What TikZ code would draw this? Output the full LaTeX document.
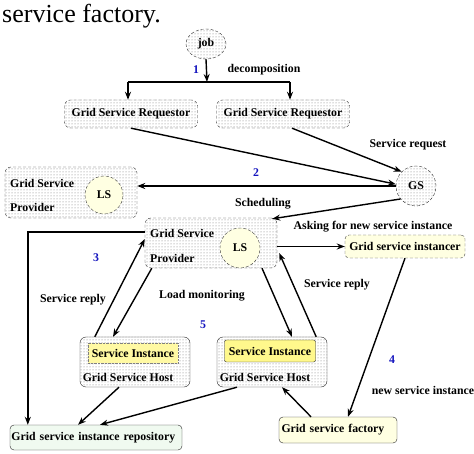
\documentclass[tikz,border=0pt]{standalone}
\usepackage{fontspec}
\setmainfont{Liberation Serif}
\usetikzlibrary{calc,patterns,shapes.geometric,arrows.meta}
\definecolor{numblue}{RGB}{20,20,190}
\definecolor{paleyellow}{RGB}{255,255,226}
\definecolor{siyellow}{RGB}{255,248,140}
\definecolor{palegreen}{RGB}{240,250,240}
\tikzset{
  lbl/.style={font=\fontsize{11.8}{13}\selectfont\bfseries, inner sep=0pt},
  num/.style={lbl, text=numblue},
  dotbox/.style={draw=black!80, densely dashed, rounded corners=6pt, pattern=dots, pattern color=black!55},
  hostbox/.style={draw=black!85, rounded corners=6pt, pattern=dots, pattern color=black!55},
  lscirc/.style={lbl, circle, draw=black!75, densely dashed, fill=paleyellow, minimum size=38pt},
  arr/.style={-{Stealth[length=8pt,width=6pt]}, line width=1.4pt},
  ln/.style={line width=1.4pt}
}

\begin{document}
\begin{tikzpicture}[x=1pt,y=-1pt]
		%%%%% START %%%%%
		\useasboundingbox (0,0) rectangle (474,454);
		\node[anchor=west, inner sep=0pt, font=\fontsize{26}{28}\selectfont] (title) at (2,16) {service factory.};
		
		\node[dotbox, ellipse, lbl, minimum width=40pt, minimum height=30pt] (job) at (206,44) {job};
		\coordinate (fork) at (207,82);
		\coordinate (forkL) at (128,82);
		\coordinate (forkR) at (290,82);
		\node[num] (n1) at (196,70) {1};
		\node[lbl] (decomp) at (264,70) {decomposition};
		
		\node[dotbox, lbl, minimum width=133pt, minimum height=28pt] (gsrA) at (131,114) {Grid Service Requestor};
		\node[dotbox, lbl, minimum width=133pt, minimum height=28pt] (gsrB) at (283,114) {Grid Service Requestor};
		
		\node[dotbox, circle, lbl, minimum size=40pt] (gs) at (416,186) {GS};
		\node[lbl] (sreq) at (408,145) {Service request};
		\node[num] (n2) at (256,173) {2};
		\node[lbl] (sched) at (263,204) {Scheduling};
		
		\node[dotbox, minimum width=132pt, minimum height=51pt] (gspA) at (71,192.5) {};
		\node[lbl, anchor=west] (gspAtop) at (10,183) {Grid Service};
		\node[lbl, anchor=west] (gspAbot) at (10,207) {Provider};
		\node[lscirc] (lsA) at (104,195) {LS};
		
		\node[dotbox, minimum width=132pt, minimum height=50pt] (gspB) at (211,243) {};
		\node[lbl, anchor=west] (gspBtop) at (150,233) {Grid Service};
		\node[lbl, anchor=west] (gspBbot) at (150,258) {Provider};
		\node[lscirc, minimum size=40pt] (lsB) at (240,248) {LS};
		
		\node[lbl] (ask) at (373,227) {Asking for new service instance};
		\node[lbl, draw=black!75, densely dashed, rounded corners=4pt, fill=paleyellow, minimum width=120pt, minimum height=23pt] (inst) at (405,246.5) {Grid service instancer};
		
		\node[num] (n3) at (96,258) {3};
		\node[lbl] (replyA) at (73,300) {Service reply};
		\node[lbl] (load) at (202,296) {Load monitoring};
		\node[lbl] (replyB) at (337,285) {Service reply};
		\node[num] (n5) at (203,325) {5};
		
		\node[hostbox, minimum width=110pt, minimum height=50pt] (hostA) at (135,362) {};
		\node[lbl, draw=black!50, densely dotted, fill=siyellow!80, minimum width=90pt, minimum height=20pt] (siA) at (133,353) {Service Instance};
		\node[lbl] (ghA) at (128,377) {Grid Service Host};
		
		\node[hostbox, minimum width=110pt, minimum height=50pt] (hostB) at (272,362) {};
		\node[lbl, draw=black!85, rounded corners=2pt, fill=siyellow, minimum width=91pt, minimum height=22pt] (siB) at (270,351) {Service Instance};
		\node[lbl] (ghB) at (265,377) {Grid Service Host};
		
		\node[num] (n4) at (392,360) {4};
		\node[lbl] (newsi) at (423,390) {new service instance};
		
		\node[lbl, draw=black!85, rounded corners=4pt, fill=paleyellow, minimum width=118pt, minimum height=26pt, text width=113pt] (fac) at (338,430) {Grid service factory};
		\node[lbl, draw=black!85, rounded corners=4pt, fill=palegreen, minimum width=172pt, minimum height=25pt, text width=169pt] (repo) at (96,437.5) {Grid service instance repository};
		
		% step 1
		\draw[arr] (job.south) -- (fork);
		\draw[ln] (forkL) -- (forkR);
		\draw[arr] (forkL) -- (forkL |- gsrA.north);
		\draw[arr] (forkR) -- (forkR |- gsrB.north);
		\draw[arr] (gsrA.south) -- (gs.175);
		\draw[arr] ($(gsrB.south)+(9,0)$) -- (gs.135);
		
		% step 2
		\draw[arr] (gs.west) -- (gs.west -| gspA.east);
		\draw[arr] (gs.220) -- ($(gspB.north east)+(-5,1)$);
		
		% step 3
		\draw[arr] (gspB.east |- inst.west) -- (inst.west);
		\draw[arr] ($(gspB.west)+(0,-11)$) -| ($(repo.north west)+(18,0)$);
		\draw[arr] ($(hostA.north west)+(15,0)$) -- ($(gspB.west)+(0,-4)$);
		\draw[arr] ($(gspB.south west)+(7,0)$) -- ($(hostA.north)+(-22,0)$);
		\draw[arr] ($(gspB.south)+(51,0)$) -- ($(hostB.north)+(20,0)$);
		\draw[arr] ($(hostB.north east)+(-11,0)$) -- ($(gspB.east)+(2,10)$);
		
		% step 4
		\draw[arr] (inst.south) -- ($(fac.north)+(10,0)$);
		\draw[arr] ($(fac.north)+(-27,0)$) -- ($(hostB.south)+(10,0)$);
		
		% step 5
		\draw[arr] ($(hostA.south)+(-16,0)$) -- ($(repo.north)+(-18,0)$);
		\draw[arr] ($(hostB.south)+(-35,0)$) -- ($(repo.north)+(4,0)$);
		%%%%% END %%%%%
\end{tikzpicture}
\end{document}
